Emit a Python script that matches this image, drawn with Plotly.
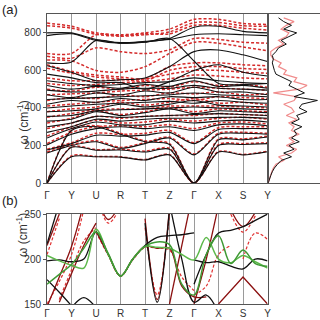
import plotly.graph_objects as go

# ---------------- data ----------------
kpts = [0, 1, 2, 3, 4, 5, 6, 7, 8, 9]
klabels = ["Γ", "Y", "U", "R", "T", "Z", "Γ", "X", "S", "Y"]

# panel (a) black bands, values at high-symmetry points
black_a = [
    [0, 140, 140, 138, 123, 150, 0, 165, 150, 167],
    [0, 190, 175, 176, 165, 180, 0, 200, 205, 210],
    [0, 280, 300, 260, 220, 205, 0, 230, 230, 245],
    [160, 200, 220, 185, 210, 240, 150, 260, 265, 260],
    [176, 210, 255, 250, 255, 270, 210, 285, 290, 290],
    [203, 260, 290, 300, 290, 300, 280, 310, 315, 305],
    [240, 290, 325, 310, 310, 330, 320, 330, 335, 325],
    [270, 300, 340, 330, 340, 345, 345, 350, 350, 345],
    [300, 320, 355, 350, 355, 360, 365, 370, 365, 360],
    [330, 340, 380, 360, 375, 395, 370, 385, 380, 375],
    [355, 360, 385, 390, 395, 400, 405, 400, 395, 390],
    [380, 385, 395, 420, 405, 420, 440, 415, 410, 405],
    [400, 410, 420, 425, 430, 435, 425, 440, 430, 425],
    [420, 440, 430, 450, 440, 460, 455, 460, 445, 445],
    [445, 450, 455, 460, 465, 470, 480, 470, 465, 460],
    [470, 455, 480, 470, 490, 480, 510, 485, 485, 470],
    [495, 485, 490, 500, 505, 505, 520, 505, 500, 495],
    [520, 500, 515, 505, 525, 515, 545, 515, 520, 505],
    [545, 530, 520, 525, 535, 540, 560, 545, 535, 530],
    [580, 560, 535, 535, 500, 540, 600, 630, 590, 570],
    [625, 590, 545, 550, 560, 620, 700, 709, 683, 647],
    [640, 645, 760, 745, 752, 770, 830, 835, 808, 800],
    [800, 800, 765, 748, 755, 765, 790, 795, 790, 785],
    [785, 795, 760, 745, 750, 770, 650, 530, 525, 530],
]

# panel (a) red dashed bands
red_a = [
    [0, 145, 142, 140, 125, 152, 0, 168, 152, 170],
    [0, 193, 178, 180, 170, 185, 0, 205, 210, 215],
    [0, 285, 305, 265, 225, 210, 0, 235, 235, 250],
    [165, 205, 225, 190, 215, 245, 155, 265, 270, 265],
    [180, 215, 265, 260, 265, 280, 215, 295, 300, 300],
    [210, 270, 300, 305, 300, 310, 290, 320, 325, 315],
    [250, 300, 335, 320, 325, 340, 330, 345, 350, 340],
    [290, 320, 355, 345, 355, 360, 360, 370, 365, 360],
    [320, 345, 385, 365, 380, 400, 380, 395, 385, 380],
    [350, 370, 390, 395, 395, 410, 410, 410, 405, 400],
    [380, 395, 405, 430, 415, 430, 450, 425, 430, 415],
    [410, 420, 430, 440, 445, 450, 440, 460, 455, 450],
    [440, 455, 450, 470, 460, 480, 475, 485, 470, 475],
    [470, 475, 480, 490, 495, 500, 510, 505, 500, 495],
    [500, 490, 510, 500, 520, 510, 540, 520, 525, 510],
    [530, 520, 525, 535, 540, 555, 575, 570, 560, 555],
    [560, 545, 545, 550, 555, 580, 600, 600, 590, 585],
    [612, 585, 565, 555, 545, 600, 620, 620, 610, 605],
    [630, 595, 575, 565, 555, 620, 640, 640, 630, 625],
    [655, 650, 600, 590, 620, 690, 750, 745, 725, 705],
    [675, 665, 720, 700, 690, 710, 770, 765, 750, 745],
    [690, 690, 790, 785, 795, 795, 840, 840, 825, 815],
    [838, 825, 792, 782, 790, 805, 855, 855, 838, 835],
    [852, 835, 800, 790, 800, 820, 872, 872, 850, 845],
]

# DOS (normalised), frequencies in cm-1
dos_freq = [0, 20, 40, 60, 80, 100, 120, 140, 160, 180, 200, 220, 240, 260, 280,
            300, 320, 340, 360, 380, 400, 420, 440, 460, 480, 500, 520, 540, 560,
            580, 600, 620, 640, 660, 680, 700, 720, 740, 760, 780, 800, 820, 840,
            860, 880]
dos_black = [0.0, 0.02, 0.05, 0.08, 0.12, 0.18, 0.25, 0.45, 0.3, 0.5, 0.4, 0.6,
             0.45, 0.55, 0.5, 0.65, 0.45, 0.6, 0.55, 0.75, 0.6, 0.65, 0.95, 0.5,
             0.7, 0.55, 0.4, 0.45, 0.3, 0.15, 0.12, 0.1, 0.08, 0.1, 0.08, 0.15,
             0.2, 0.35, 0.25, 0.4, 0.55, 0.3, 0.45, 0.3, 0.2]
dos_pink = [0.0, 0.02, 0.04, 0.07, 0.1, 0.15, 0.3, 0.2, 0.45, 0.55, 0.35, 0.5,
            0.4, 0.6, 0.45, 0.5, 0.4, 0.55, 0.35, 0.5, 0.45, 0.3, 0.5, 0.55,
            0.1, 0.6, 0.75, 0.5, 0.55, 0.3, 0.35, 0.2, 0.25, 0.1, 0.05, 0.05,
            0.15, 0.3, 0.2, 0.35, 0.4, 0.25, 0.35, 0.5, 0.3]

# panel (b): values on half-step path grid
kb = [0, 0.5, 1, 1.5, 2, 2.5, 3, 3.5, 4, 4.5, 5, 5.5, 6, 6.5, 7, 7.5, 8, 8.5, 9]
N = None
black_b = [
    [198, 199, 197, 200, 230, 205, 181, 200, 215, 224, 226, 227, 229, N, N, N, N, N, N],
    [217, 262, N, N, N, N, N, N, N, N, N, N, N, N, N, N, N, N, N],
    [177, 163, 148, N, N, N, N, N, N, N, N, N, N, N, N, N, N, N, N],
    [N, N, 146, 157, 146, N, N, N, N, N, N, N, N, N, N, N, N, N, N],
    [N, N, N, N, N, N, N, N, 240, 152, 256, N, N, N, N, N, N, N, N],
    [N, N, N, N, N, N, N, N, N, N, 262, 200, 152, 160, 140, N, N, N, N],
    [N, N, N, N, N, N, N, N, N, N, N, N, 172, 205, 229, 232, 236, 243, 250],
    [N, N, N, N, N, N, N, N, N, N, N, N, 199, 196, 197, 192, 189, 200, 198],
]
darkred_b = [
    [215, 250, N, N, N, N, N, N, N, N, N, N, N, N, N, N, N, N, N],
    [147, 180, 214, 262, N, N, N, N, N, N, N, N, N, N, N, N, N, N, N],
    [N, 152, 184, 215, 240, N, N, N, N, N, N, N, N, N, N, N, N, N, N],
    [N, N, N, N, 231, 205, 181, 200, 214, 212, 212, 170, 158, 158, N, N, N, N, N],
    [N, N, N, N, 275, 244, 262, N, N, N, N, N, N, N, N, N, N, N, N],
    [N, N, N, N, N, N, N, N, 245, 155, 258, N, N, N, N, N, N, N, N],
    [N, N, N, N, N, N, N, N, N, N, 150, 215, 280, N, N, N, N, N, N],
    [N, N, N, N, N, N, N, N, N, N, N, N, 150, 200, 260, N, N, N, N],
    [N, N, N, N, N, N, N, N, N, N, N, N, N, N, N, 255, 236, 252, N],
]
sv_b = [N, N, N, N, N, N, N, N, N, N, N, N, N, N, 150, 165, 180, 165, 150]
reddash_b = [
    [205, 245, N, N, N, N, N, N, N, N, N, N, N, N, N, N, N, N, N],
    [150, 175, 205, 255, N, N, N, N, N, N, N, N, N, N, N, N, N, N, N],
    [N, 155, 188, 220, 235, N, N, N, N, N, N, N, N, N, N, N, N, N, N],
    [N, N, N, N, 230, 204, 181, 199, 213, 212, 210, 180, 165, N, N, N, N, N, N],
    [N, N, N, N, 278, 240, 258, N, N, N, N, N, N, N, N, N, N, N, N],
    [N, N, N, N, N, N, N, N, 235, 160, 250, N, N, N, N, N, N, N, N],
    [N, N, N, N, N, N, N, N, N, N, N, N, 160, 170, 205, 215, N, N, N],
    [N, N, N, N, N, N, N, N, N, N, N, N, N, N, N, N, 200, 229, 222],
    [N, N, N, N, N, N, N, N, N, N, N, N, N, N, N, 250, 230, 248, N],
]
green_b = [
    [204, 198, 193, 190, 233, 205, 181, 200, 214, 213, 212, 205, 199, 224, 200, 196, 204, 197, 190],
    [172, 183, 194, 212, 230, 206, 181, 200, 214, 219, 216, 172, 160, 205, 226, 195, 210, 195, 192],
]
green_colors = ["#5cb84a", "#3f9a35"]

# ---------------- figure ----------------
fig = go.Figure()

for band in red_a:
    fig.add_trace(go.Scatter(x=kpts, y=band, mode="lines", xaxis="x", yaxis="y",
                             line=dict(color="#d42a2a", width=1.5, dash="3px,2px",
                                       shape="spline", smoothing=0.8),
                             hoverinfo="skip", showlegend=False))
for band in black_a:
    fig.add_trace(go.Scatter(x=kpts, y=band, mode="lines", xaxis="x", yaxis="y",
                             line=dict(color="#111111", width=1.1, shape="spline", smoothing=0.8),
                             hoverinfo="skip", showlegend=False))

fig.add_trace(go.Scatter(x=dos_pink, y=dos_freq, mode="lines", xaxis="x2", yaxis="y2",
                         line=dict(color="#f08c8c", width=1.2), hoverinfo="skip", showlegend=False))
fig.add_trace(go.Scatter(x=dos_black, y=dos_freq, mode="lines", xaxis="x2", yaxis="y2",
                         line=dict(color="#111111", width=1.0), hoverinfo="skip", showlegend=False))

for band in reddash_b:
    fig.add_trace(go.Scatter(x=kb, y=band, mode="lines", xaxis="x3", yaxis="y3",
                             line=dict(color="#e03030", width=1.2, dash="3px,2px", shape="spline"),
                             hoverinfo="skip", showlegend=False))
for band in darkred_b:
    fig.add_trace(go.Scatter(x=kb, y=band, mode="lines", xaxis="x3", yaxis="y3",
                             line=dict(color="#8b1010", width=1.3, shape="spline"),
                             hoverinfo="skip", showlegend=False))
fig.add_trace(go.Scatter(x=kb, y=sv_b, mode="lines", xaxis="x3", yaxis="y3",
                         line=dict(color="#8b1010", width=1.3), hoverinfo="skip", showlegend=False))
for band in black_b:
    fig.add_trace(go.Scatter(x=kb, y=band, mode="lines", xaxis="x3", yaxis="y3",
                             line=dict(color="#111111", width=1.3, shape="spline"),
                             hoverinfo="skip", showlegend=False))
for band, c in zip(green_b, green_colors):
    fig.add_trace(go.Scatter(x=kb, y=band, mode="lines", xaxis="x3", yaxis="y3",
                             line=dict(color=c, width=1.5, shape="spline"),
                             hoverinfo="skip", showlegend=False))

font = dict(family="Arial, Liberation Sans, sans-serif", size=10, color="#333333")
xcommon = dict(range=[0, 9], tickvals=kpts, ticktext=klabels, showgrid=True,
               gridcolor="#9a9a9a", gridwidth=1.2, showline=True, mirror=True,
               linecolor="#555555", linewidth=1, ticks="outside", automargin=False,
               tickcolor="rgba(0,0,0,0)", zeroline=False, tickfont=font)
ycommon = dict(showgrid=False, showline=True, mirror=True, linecolor="#555555",
               linewidth=1, ticks="outside", ticklen=3, tickcolor="#555555",
               automargin=False, zeroline=False, tickfont=font)

fig.update_layout(
    width=320, height=320, margin=dict(l=0, r=0, t=0, b=0, autoexpand=False),
    paper_bgcolor="white", plot_bgcolor="white", showlegend=False,
    xaxis=dict(domain=[0.147, 0.836], anchor="y", ticklen=3, **xcommon),
    yaxis=dict(domain=[0.428, 0.956], anchor="x", range=[0, 900],
               tickvals=[0, 200, 400, 600, 800], **ycommon),
    xaxis2=dict(domain=[0.838, 1.0], anchor="y2", range=[0, 1], showgrid=False,
                showline=True, mirror=True, linecolor="#555555", linewidth=1,
                showticklabels=False, ticks="", zeroline=False, automargin=False),
    yaxis2=dict(domain=[0.428, 0.956], anchor="x2", range=[0, 900], showgrid=False,
                showline=True, linecolor="#555555", linewidth=1, showticklabels=False,
                ticks="", zeroline=False, automargin=False),
    xaxis3=dict(domain=[0.147, 0.836], anchor="y3", ticklen=0, **xcommon),
    yaxis3=dict(domain=[0.05, 0.331], anchor="x3", range=[150, 250],
                tickvals=[150, 200, 250], **ycommon),
    annotations=[
        dict(text="(a)", x=0.0, y=1.0, xref="paper", yref="paper", xanchor="left",
             yanchor="top", showarrow=False, font=dict(family="Arial", size=13, color="#222")),
        dict(text="(b)", x=0.0, y=1 - 191 / 320, xref="paper", yref="paper", xanchor="left",
             yanchor="top", showarrow=False, font=dict(family="Arial", size=13, color="#222")),
        dict(text="ω (cm<sup>-1</sup>)", x=12 / 320, y=1 - 98.5 / 320, xref="paper",
             yref="paper", textangle=-90, showarrow=False,
             font=dict(family="Arial", size=12, color="#333")),
        dict(text="ω (cm<sup>-1</sup>)", x=12 / 320, y=1 - 259 / 320, xref="paper",
             yref="paper", textangle=-90, showarrow=False,
             font=dict(family="Arial", size=12, color="#333")),
    ],
)

fig.write_html("out.html")
